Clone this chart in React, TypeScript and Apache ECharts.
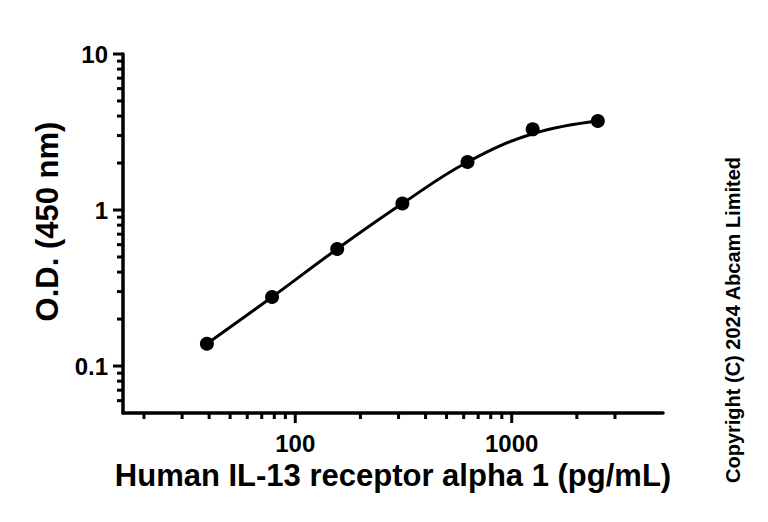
import React, { useEffect, useRef } from "react";
import * as echarts from "echarts";

// Data
const concentrations = [39.0625, 78.125, 156.25, 312.5, 625, 1250, 2500];
const odValues = [0.139, 0.277, 0.563, 1.1, 2.03, 3.29, 3.72];
const curveOd = [0.139, 0.277, 0.563, 1.1, 2.03, 3.08, 3.72];

const xMajorTicks = [100, 1000];
const xMajorLabels = ["100", "1000"];
const xMinorTicks = [20, 30, 40, 50, 60, 70, 80, 90, 200, 300, 400, 500, 600, 700, 800, 900, 2000, 3000];
const yMajorTicks = [0.1, 1, 10];
const yMajorLabels = ["0.1", "1", "10"];
const yMinorTicks = [0.06, 0.07, 0.08, 0.09, 0.2, 0.3, 0.4, 0.5, 0.6, 0.7, 0.8, 0.9, 2, 3, 4, 5, 6, 7, 8, 9];

const X_MIN = 16;
const X_MAX = 5000;
const Y_MIN = 0.05;
const Y_MAX = 10;

const FONT = "'Liberation Sans', Arial, Helvetica, sans-serif";

function labelFor(v: number, ticks: number[], labels: string[]) {
  for (let i = 0; i < ticks.length; i++) {
    if (Math.abs(Math.log10(v) - Math.log10(ticks[i])) < 1e-6) return labels[i];
  }
  return "";
}

function xTickSeries(values: number[], len: number) {
  return {
    type: "custom",
    clip: false,
    silent: true,
    z: 5,
    data: values.map((v) => [v, Y_MIN]),
    encode: { x: 0, y: 1 },
    renderItem: (_p: any, api: any) => {
      const pt = api.coord([api.value(0), api.value(1)]);
      return {
        type: "line",
        shape: { x1: pt[0], y1: pt[1], x2: pt[0], y2: pt[1] + len },
        style: { stroke: "#000", lineWidth: 3, lineCap: "butt" },
      };
    },
  };
}

function yTickSeries(values: number[], len: number) {
  return {
    type: "custom",
    clip: false,
    silent: true,
    z: 5,
    data: values.map((v) => [X_MIN, v]),
    encode: { x: 0, y: 1 },
    renderItem: (_p: any, api: any) => {
      const pt = api.coord([api.value(0), api.value(1)]);
      return {
        type: "line",
        shape: { x1: pt[0], y1: pt[1], x2: pt[0] - len, y2: pt[1] },
        style: { stroke: "#000", lineWidth: 3, lineCap: "butt" },
      };
    },
  };
}

export default function App() {
  const ref = useRef<HTMLDivElement>(null);

  useEffect(() => {
    if (!ref.current) return;
    const chart = echarts.init(ref.current, undefined, { renderer: "svg" });
    chart.setOption({
      animation: false,
      backgroundColor: "#fff",
      grid: { left: 123, right: 105, top: 54, bottom: 109, containLabel: false },
      xAxis: {
        type: "log",
        logBase: 10,
        min: X_MIN,
        max: X_MAX,
        name: "Human IL-13 receptor alpha 1 (pg/mL)",
        nameLocation: "middle",
        nameGap: 46,
        nameTextStyle: { fontFamily: FONT, fontWeight: "bold", fontSize: 31, color: "#000" },
        axisLine: { show: true, lineStyle: { color: "#000", width: 3.5 } },
        axisTick: { show: false },
        splitLine: { show: false },
        minorTick: { show: false },
        axisLabel: {
          margin: 18,
          fontFamily: FONT,
          fontWeight: "bold",
          fontSize: 24,
          color: "#000",
          formatter: (v: number) => labelFor(v, xMajorTicks, xMajorLabels),
        },
      },
      yAxis: {
        type: "log",
        logBase: 10,
        min: Y_MIN,
        max: Y_MAX,
        name: "O.D. (450 nm)",
        nameLocation: "middle",
        nameGap: 60,
        nameTextStyle: { fontFamily: FONT, fontWeight: "bold", fontSize: 31, color: "#000", padding: [0, 0, 0, 24] },
        axisLine: { show: true, lineStyle: { color: "#000", width: 3.5 } },
        axisTick: { show: false },
        splitLine: { show: false },
        minorTick: { show: false },
        axisLabel: {
          margin: 15,
          fontFamily: FONT,
          fontWeight: "bold",
          fontSize: 24,
          color: "#000",
          formatter: (v: number) => labelFor(v, yMajorTicks, yMajorLabels),
        },
      },
      graphic: [
        {
          type: "text",
          x: 733,
          y: 320,
          rotation: Math.PI / 2,
          style: {
            text: "Copyright (C) 2024 Abcam Limited",
            fontFamily: FONT,
            fontWeight: "bold",
            fontSize: 20,
            fill: "#000",
            align: "center",
            verticalAlign: "middle",
          },
        },
      ],
      series: [
        xTickSeries(xMajorTicks, 10),
        xTickSeries(xMinorTicks, 6),
        yTickSeries(yMajorTicks, 10),
        yTickSeries(yMinorTicks, 6),
        {
          type: "line",
          data: concentrations.map((c, i) => [c, curveOd[i]]),
          smooth: 0.4,
          showSymbol: false,
          symbol: "none",
          lineStyle: { color: "#000", width: 3 },
          z: 3,
        },
        {
          type: "scatter",
          data: concentrations.map((c, i) => [c, odValues[i]]),
          symbol: "circle",
          symbolSize: 14,
          itemStyle: { color: "#000", opacity: 1 },
          z: 4,
        },
      ],
    });
    return () => chart.dispose();
  }, []);

  return (
    <div
      ref={ref}
      style={{ position: "fixed", left: 0, top: 0, width: 768, height: 522, background: "#fff" }}
    />
  );
}
